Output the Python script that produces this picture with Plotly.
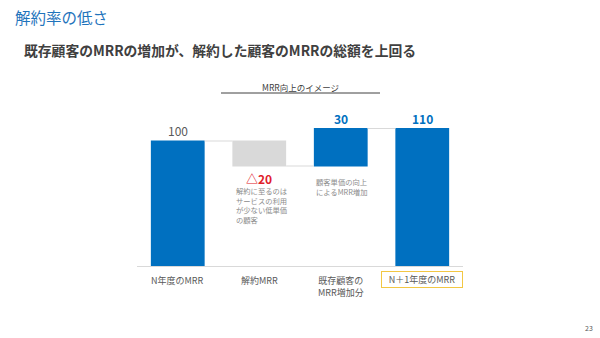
import plotly.graph_objects as go

# ---- data ----
categories = ["N年度のMRR", "解約MRR", "既存顧客の<br>MRR増加分", "N＋1年度のMRR"]
measures = ["absolute", "relative", "relative", "total"]
values = [100, -20, 30, 0]
note_churn = ["解約に至るのは", "サービスの利用", "が少ない低単価", "の顧客"]
note_growth = ["顧客単価の向上", "によるMRR増加"]

W, H = 600, 338
ML, MR, MT, MB = 137, 137, 100, 72
FONT = "Noto Sans CJK JP"
BLUE = "#0070c0"
GREY_BAR = "#d9d9d9"
TXT = "#595959"


def px(x):
    return (x - ML) / (W - ML - MR)


def py(y):
    return (H - MB - y) / (H - MT - MB)


# running totals for label placement
running = []
acc = 0
for m, v in zip(measures, values):
    if m == "absolute":
        acc = v
    elif m == "relative":
        acc += v
    running.append(acc)
final_total = running[-1]

fig = go.Figure(go.Waterfall(
    x=list(range(len(categories))),
    measure=measures,
    y=values,
    increasing=dict(marker=dict(color=BLUE)),
    decreasing=dict(marker=dict(color=GREY_BAR)),
    totals=dict(marker=dict(color=BLUE)),
    connector=dict(line=dict(color="#d9d9d9", width=1)),
    hoverinfo="skip",
))

ann = []
# value labels
ann.append(dict(x=0, y=running[0], text=str(values[0]), showarrow=False,
                yanchor="bottom", yshift=0,
                font=dict(size=12, color=TXT, family=FONT)))
ann.append(dict(x=1, y=running[1], text=f"△{abs(values[1])}", showarrow=False,
                yanchor="middle", yshift=-12,
                font=dict(size=12, color="#e0202a", family=FONT, weight="bold")))
ann.append(dict(x=2, y=running[2], text=str(values[2]), showarrow=False,
                yanchor="bottom", yshift=0,
                font=dict(size=12, color=BLUE, family=FONT, weight="bold")))
ann.append(dict(x=3, y=final_total, text=str(final_total), showarrow=False,
                yanchor="bottom", yshift=0,
                font=dict(size=12, color=BLUE, family=FONT, weight="bold")))

# explanatory notes, one annotation per line for tighter control of leading
for k, line in enumerate(note_churn):
    ann.append(dict(x=0.695, y=running[1], text=line, showarrow=False,
                    xanchor="left", yanchor="middle", yshift=-(25 + 9.5 * k),
                    font=dict(size=7.3, color="#8c8c8c", family=FONT)))
for k, line in enumerate(note_growth):
    ann.append(dict(x=1.67, y=running[1], text=line, showarrow=False,
                    xanchor="left", yanchor="middle", yshift=-(16 + 9.5 * k),
                    font=dict(size=7.3, color="#8c8c8c", family=FONT)))

# category labels
for i, c in enumerate(categories):
    a = dict(x=i, y=0, text=c, showarrow=False, yanchor="top", yshift=-6,
             font=dict(size=9, color=TXT, family=FONT))
    if i == len(categories) - 1:
        a.update(bordercolor="#f2c744", borderwidth=1, borderpad=1, width=78, yshift=-5)
    ann.append(a)

# headings
ann.append(dict(xref="paper", yref="paper", x=px(13), y=py(17), text="解約率の低さ",
                showarrow=False, xanchor="left", yanchor="middle",
                font=dict(size=15.5, color="#1f74bc", family=FONT)))
ann.append(dict(xref="paper", yref="paper", x=px(22), y=py(50),
                text="既存顧客のMRRの増加が、解約した顧客のMRRの総額を上回る",
                showarrow=False, xanchor="left", yanchor="middle",
                font=dict(size=13.8, color="#404040", family=FONT, weight="bold")))
ann.append(dict(xref="paper", yref="paper", x=px(300), y=py(87), text="MRR向上のイメージ",
                showarrow=False, xanchor="center", yanchor="middle",
                font=dict(size=8.5, color="#404040", family=FONT)))
ann.append(dict(xref="paper", yref="paper", x=px(589), y=py(328), text="23",
                showarrow=False, xanchor="center", yanchor="middle",
                font=dict(size=7, color="#595959", family=FONT)))

shapes = [dict(type="line", xref="paper", yref="paper",
               x0=px(221), x1=px(380), y0=py(93), y1=py(93),
               line=dict(color="#404040", width=1))]

fig.update_layout(
    width=W, height=H,
    margin=dict(l=ML, r=MR, t=MT, b=MB),
    paper_bgcolor="white", plot_bgcolor="white",
    showlegend=False,
    waterfallgap=0.34,
    xaxis=dict(range=[-0.5, 3.5], showticklabels=False, showgrid=False, zeroline=False,
               showline=True, linecolor="#d9d9d9", linewidth=1, fixedrange=True),
    yaxis=dict(range=[0, 132.8], visible=False, fixedrange=True),
    annotations=ann,
    shapes=shapes,
    font=dict(family=FONT),
)

fig.write_html("out.html", config=dict(displayModeBar=False))
